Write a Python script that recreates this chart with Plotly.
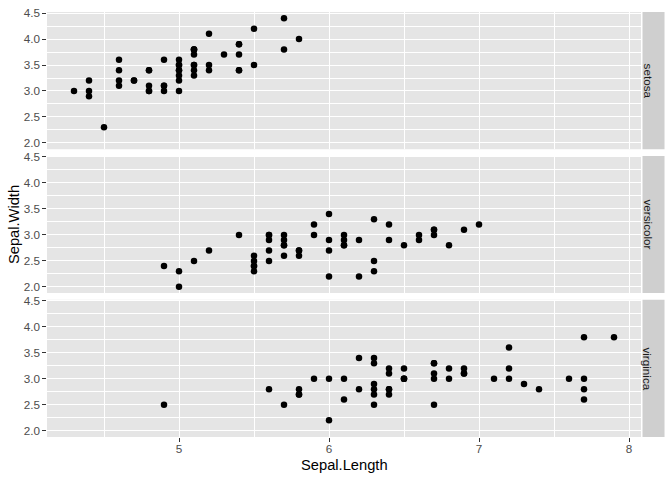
import plotly.graph_objects as go
from plotly.subplots import make_subplots

# iris sepal measurements, per species
species = ["setosa", "versicolor", "virginica"]

setosa_length = [5.1, 4.9, 4.7, 4.6, 5.0, 5.4, 4.6, 5.0, 4.4, 4.9,
                 5.4, 4.8, 4.8, 4.3, 5.8, 5.7, 5.4, 5.1, 5.7, 5.1,
                 5.4, 5.1, 4.6, 5.1, 4.8, 5.0, 5.0, 5.2, 5.2, 4.7,
                 4.8, 5.4, 5.2, 5.5, 4.9, 5.0, 5.5, 4.9, 4.4, 5.1,
                 5.0, 4.5, 4.4, 5.0, 5.1, 4.8, 5.1, 4.6, 5.3, 5.0]
setosa_width = [3.5, 3.0, 3.2, 3.1, 3.6, 3.9, 3.4, 3.4, 2.9, 3.1,
                3.7, 3.4, 3.0, 3.0, 4.0, 4.4, 3.9, 3.5, 3.8, 3.8,
                3.4, 3.7, 3.6, 3.3, 3.4, 3.0, 3.4, 3.5, 3.4, 3.2,
                3.1, 3.4, 4.1, 4.2, 3.1, 3.2, 3.5, 3.6, 3.0, 3.4,
                3.5, 2.3, 3.2, 3.5, 3.8, 3.0, 3.8, 3.2, 3.7, 3.3]

versicolor_length = [7.0, 6.4, 6.9, 5.5, 6.5, 5.7, 6.3, 4.9, 6.6, 5.2,
                     5.0, 5.9, 6.0, 6.1, 5.6, 6.7, 5.6, 5.8, 6.2, 5.6,
                     5.9, 6.1, 6.3, 6.1, 6.4, 6.6, 6.8, 6.7, 6.0, 5.7,
                     5.5, 5.5, 5.8, 6.0, 5.4, 6.0, 6.7, 6.3, 5.6, 5.5,
                     5.5, 6.1, 5.8, 5.0, 5.6, 5.7, 5.7, 6.2, 5.1, 5.7]
versicolor_width = [3.2, 3.2, 3.1, 2.3, 2.8, 2.8, 3.3, 2.4, 2.9, 2.7,
                    2.0, 3.0, 2.2, 2.9, 2.9, 3.1, 3.0, 2.7, 2.2, 2.5,
                    3.2, 2.8, 2.5, 2.8, 2.9, 3.0, 2.8, 3.0, 2.9, 2.6,
                    2.4, 2.4, 2.7, 2.7, 3.0, 3.4, 3.1, 2.3, 3.0, 2.5,
                    2.6, 3.0, 2.6, 2.3, 2.7, 3.0, 2.9, 2.9, 2.5, 2.8]

virginica_length = [6.3, 5.8, 7.1, 6.3, 6.5, 7.6, 4.9, 7.3, 6.7, 7.2,
                    6.5, 6.4, 6.8, 5.7, 5.8, 6.4, 6.5, 7.7, 7.7, 6.0,
                    6.9, 5.6, 7.7, 6.3, 6.7, 7.2, 6.2, 6.1, 6.4, 7.2,
                    7.4, 7.9, 6.4, 6.3, 6.1, 7.7, 6.3, 6.4, 6.0, 6.9,
                    6.7, 6.9, 5.8, 6.8, 6.7, 6.7, 6.3, 6.5, 6.2, 5.9]
virginica_width = [3.3, 2.7, 3.0, 2.9, 3.0, 3.0, 2.5, 2.9, 2.5, 3.6,
                   3.2, 2.7, 3.0, 2.5, 2.8, 3.2, 3.0, 3.8, 2.6, 2.2,
                   3.2, 2.8, 2.8, 2.7, 3.3, 3.2, 2.8, 3.0, 2.8, 3.0,
                   2.8, 3.8, 2.8, 2.8, 2.6, 3.0, 3.4, 3.1, 3.0, 3.1,
                   3.1, 3.1, 2.7, 3.2, 3.3, 3.0, 2.5, 3.0, 3.4, 3.0]

x_ticks = [5, 6, 7, 8]
y_ticks = [2.0, 2.5, 3.0, 3.5, 4.0, 4.5]
y_tick_labels = ["2.0", "2.5", "3.0", "3.5", "4.0", "4.5"]

lengths = [setosa_length, versicolor_length, virginica_length]
widths = [setosa_width, versicolor_width, virginica_width]

W, H = 672, 480
ml, mr, mt, mb = 47.4, 31, 6, 42.5
gap_px = 6.8
plot_h = H - mt - mb
plot_w = W - ml - mr

fig = make_subplots(rows=3, cols=1, shared_xaxes=True,
                    vertical_spacing=gap_px / plot_h)

font = "Liberation Sans, Arial, sans-serif"
panel_bg = "#E5E5E5"
strip_bg = "#CFCFCF"

for i, sp in enumerate(species):
    fig.add_trace(go.Scatter(
        x=lengths[i], y=widths[i], mode="markers",
        marker=dict(size=6.5, color="black"),
        name=sp, showlegend=False, hoverinfo="x+y"
    ), row=i + 1, col=1)

    fig.update_yaxes(
        range=[1.88, 4.52], tickvals=y_ticks, ticktext=y_tick_labels,
        ticks="outside", ticklen=3.7, tickwidth=1.07, tickcolor="#333333",
        tickfont=dict(family=font, size=11.7, color="#4D4D4D"),
        showgrid=True, gridcolor="white", gridwidth=1.07, zeroline=False,
        minor=dict(tickvals=[2.25, 2.75, 3.25, 3.75, 4.25], showgrid=True,
                   gridcolor="white", gridwidth=0.53),
        showline=False,
        row=i + 1, col=1)
    fig.update_xaxes(
        range=[4.12, 8.08], tickvals=x_ticks,
        showgrid=True, gridcolor="white", gridwidth=1.07, zeroline=False,
        minor=dict(tickvals=[4.5, 5.5, 6.5, 7.5], showgrid=True,
                   gridcolor="white", gridwidth=0.53),
        ticks="outside" if i == 2 else "", ticklen=3.7, tickwidth=1.07,
        tickcolor="#333333",
        showticklabels=(i == 2), ticklabelstandoff=-3,
        tickfont=dict(family=font, size=11.7, color="#4D4D4D"),
        showline=False,
        row=i + 1, col=1)

# panel backgrounds and facet strips
for i, sp in enumerate(species):
    yref = "y" if i == 0 else f"y{i + 1}"
    fig.add_shape(type="rect", xref="x domain", yref=yref + " domain",
                  x0=0, x1=1, y0=0, y1=1, fillcolor=panel_bg,
                  line=dict(width=0), layer="below")
    fig.add_shape(type="rect", xref="paper", yref=yref + " domain",
                  x0=1 + 1.5 / plot_w, x1=1 + 23.5 / plot_w, y0=0, y1=1,
                  fillcolor=strip_bg, line=dict(width=0))
    fig.add_annotation(xref="paper", yref=yref + " domain",
                       x=1 + 12.5 / plot_w, y=0.5, text=sp, textangle=90,
                       showarrow=False, xshift=3,
                       font=dict(family=font, size=11.7, color="#1A1A1A"))

fig.add_annotation(xref="paper", yref="paper", x=0.5, y=-28 / plot_h,
                   text="Sepal.Length", showarrow=False, yanchor="middle",
                   font=dict(family=font, size=14.7, color="black"))
fig.add_annotation(xref="paper", yref="paper", x=-(ml - 14) / plot_w, y=0.5,
                   text="Sepal.Width", showarrow=False, textangle=-90,
                   xanchor="center", font=dict(family=font, size=14.7,
                                               color="black"))

fig.update_layout(
    width=W, height=H,
    margin=dict(l=ml, r=mr, t=mt, b=mb),
    plot_bgcolor="rgba(0,0,0,0)", paper_bgcolor="white",
    showlegend=False,
)

fig.write_html("out.html", config={"displayModeBar": False},
               post_script="document.body.style.margin='0';")
